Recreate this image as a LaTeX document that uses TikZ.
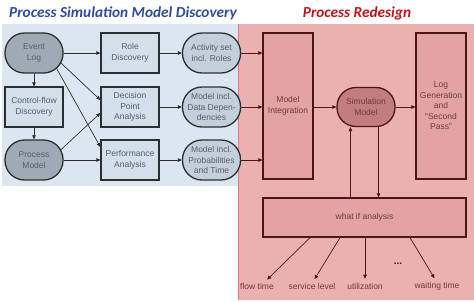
\documentclass[tikz,border=0pt]{standalone}
\usepackage{fontspec}
\setmainfont{Liberation Sans}
\newfontfamily\titlefont{Carlito}
\usetikzlibrary{arrows.meta}

\definecolor{bluebg}{HTML}{DCE6F1}
\definecolor{bluefill}{HTML}{D3E0EC}
\definecolor{bluedata}{HTML}{C3CFDB}
\definecolor{bluesource}{HTML}{A0AAB5}
\definecolor{bluetext}{HTML}{555F69}
\definecolor{blueline}{HTML}{2B2F33}
\definecolor{bluetitle}{HTML}{2F4B9B}
\definecolor{redbg}{HTML}{EBB0B0}
\definecolor{redfill}{HTML}{E3A3A5}
\definecolor{redsim}{HTML}{C27D80}
\definecolor{redline}{HTML}{4D1518}
\definecolor{redtext}{HTML}{6E3B3D}
\definecolor{redtitle}{HTML}{C0141C}
\definecolor{rededge}{HTML}{E27A7E}

\newcommand\nodefont{\fontsize{8.5}{10.5}\selectfont}

\begin{document}
\begin{tikzpicture}[x=1pt,y=-1pt,
		stepbox/.style={
			draw=blueline,
			line width=1.3pt,
			fill=bluefill,
			align=center,
			minimum width=58pt,
			minimum height=40pt,
			inner sep=1pt,
			text=bluetext,
			font=\nodefont
		},
		databox/.style={stepbox, rounded corners=19.5pt, fill=bluedata},
		sourcebox/.style={databox, fill=bluesource},
		redstep/.style={
			draw=redline,
			line width=1.3pt,
			fill=redfill,
			align=center,
			inner sep=1pt,
			text=redtext,
			font=\nodefont
		},
		outlabel/.style={text=redtext, font=\nodefont, inner sep=1pt},
		arrow/.style={draw=blueline, line width=0.7pt, -{Triangle[length=4pt,width=3.6pt]}},
		redarrow/.style={arrow, draw=redline}
		]
		\useasboundingbox (0,0) rectangle (474,301);
		
		% Panels
		\fill[bluebg] (2,24) rectangle (238,186);
		\fill[redbg] (238,24) rectangle (474,300);
		\draw[rededge, line width=0.8pt] (238.4,24) -- (238.4,300);
		
		% Titles
		\node[anchor=west, inner sep=0, text=bluetitle, font=\titlefont\fontsize{15.3}{16}\selectfont\bfseries\itshape] (disctitle) at (9,13) {Process Simulation Model Discovery};
		\node[inner sep=0, text=redtitle, font=\titlefont\fontsize{15.3}{16}\selectfont\bfseries\itshape] (redtitle) at (357,13) {Process Redesign};
		
		% Discovery: inputs
		\node[sourcebox] (event) at (34,53) {Event\\Log};
		\node[stepbox] (cflow) at (34,107) {Control-flow\\Discovery};
		\node[sourcebox] (pmodel) at (34,160) {Process\\Model};
		
		% Discovery: analysis steps
		\node[stepbox] (role) at (130,53) {Role\\Discovery};
		\node[stepbox] (dpa) at (130,107) {Decision\\Point\\Analysis};
		\node[stepbox] (perf) at (130,160) {Performance\\Analysis};
		
		% Discovery: results
		\node[databox] (roles) at (211.5,53) {Activity set\\incl. Roles};
		\node[databox] (datadep) at (211.5,107) {Model incl.\\Data Depen-\\dencies};
		\node[databox] (probs) at (211.5,160) {Model incl.\\Probabilities\\and Time};
		
		% Redesign
		\node[redstep, minimum width=50pt, minimum height=146pt] (integ) at (288,106) {Model\\Integration};
		\node[redstep, rounded corners=19pt, fill=redsim, minimum width=58pt, minimum height=39pt] (sim) at (366,107) {Simulation\\Model};
		\node[redstep, minimum width=50pt, minimum height=146pt] (loggen) at (441,106) {Log\\Generation\\and\\“Second\\Pass”};
		\node[redstep, minimum width=203pt, minimum height=39pt] (whatif) at (364.5,217.5) {what if analysis};
		
		% Outcomes
		\node[outlabel] (flow) at (257,286) {flow time};
		\node[outlabel] (service) at (312,286) {service level};
		\node[outlabel] (util) at (365,286) {utilization};
		\node[outlabel] (waiting) at (437,286) {waiting time};
		\node[text=redline, font=\fontsize{10}{10}\selectfont\bfseries, inner sep=0] (more) at (398,264) {...};
		
		% Discovery arrows
		\draw[arrow] (event) -- (role);
		\draw[arrow] (event) -- (cflow);
		\draw[arrow] ([shift={(-2.7pt,-10pt)}]event.east) -- ([yshift=7pt]dpa.west);
		\draw[arrow] ([shift={(-7.1pt,-15.3pt)}]event.east) -- ([yshift=13pt]perf.west);
		\draw[arrow] (cflow) -- (pmodel);
		\draw[arrow] ([shift={(-3pt,10pt)}]pmodel.east) -- ([yshift=-6pt]dpa.west);
		\draw[arrow] (pmodel) -- (perf);
		\draw[arrow] (role) -- (roles);
		\draw[arrow] (dpa) -- (datadep);
		\draw[arrow] (perf) -- (probs);
		
		% Redesign arrows
		\draw[redarrow] (roles.east) -- (roles.east -| integ.west);
		\draw[redarrow] (datadep.east) -- (datadep.east -| integ.west);
		\draw[redarrow] (probs.east) -- (probs.east -| integ.west);
		\draw[redarrow] (integ.east |- sim.west) -- (sim.west);
		\draw[redarrow] (sim.east) -- (sim.east -| loggen.west);
		\draw[redarrow] ([xshift=-14pt]whatif.north) -- ([xshift=-14pt]whatif.north |- sim.south);
		\draw[redarrow] ([xshift=14pt]whatif.north |- sim.south) -- ([xshift=14pt]whatif.north);
		\draw[redarrow, shorten >=3pt] ([xshift=-54.5pt]whatif.south) -- ([xshift=8pt]flow.north);
		\draw[redarrow, shorten >=3pt] ([xshift=-24.5pt]whatif.south) -- ([xshift=1pt]service.north);
		\draw[redarrow, shorten >=3pt] ([xshift=0.5pt]whatif.south) -- (util.north);
		\draw[redarrow, shorten >=3pt] ([xshift=45.5pt]whatif.south) -- ([xshift=-1pt]waiting.north);
		
	\end{tikzpicture}
\end{document}
